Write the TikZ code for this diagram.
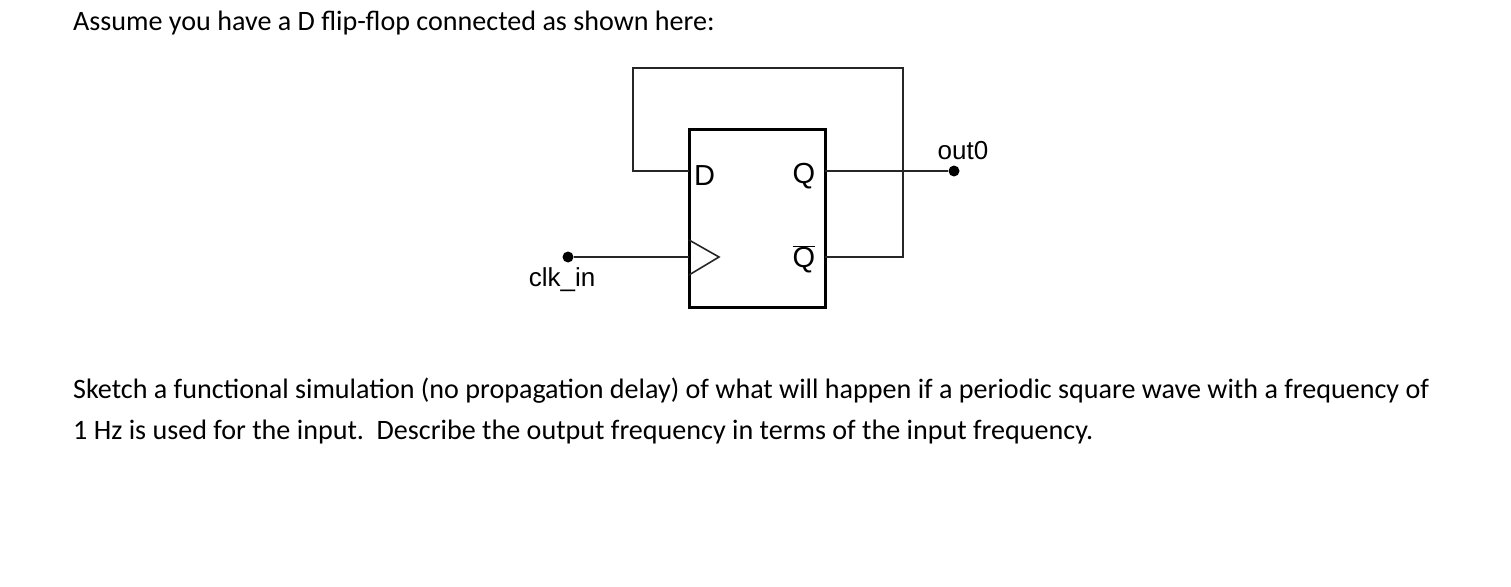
\documentclass[tikz,border=0pt]{standalone}
\usepackage{fontspec}
\setmainfont{Carlito}
\newfontfamily\arialf{Liberation Sans}
\begin{document}
\begin{tikzpicture}[x=1pt,y=-1pt,
  wire/.style={line width=1.6pt,draw=black!85},
  dot/.style={circle,fill=black,inner sep=0pt,minimum size=11pt},
  body/.style={font=\fontsize{28.1}{32}\selectfont,anchor=base west,inner sep=0pt},
  lbl/.style={font=\arialf\fontsize{26}{30}\selectfont,inner sep=0pt},
  pin/.style={font=\arialf\fontsize{29}{32}\selectfont,inner sep=0pt}]
\useasboundingbox (0,0) rectangle (1511,586);
\node[body] (t1) at (73,31) {Assume you have a D flip-flop connected as shown here:};
\node[draw,line width=3pt,minimum width=136pt,minimum height=178pt,inner sep=0pt] (ff) at (757,218) {};
\node[pin,anchor=west] (d) at (694,176) {D};
\node[pin] (q) at (804,176) {Q};
\node[pin] (qb) at (804,259) {$\overline{\mbox{Q}}$};
\coordinate (dpin) at (689,171);
\coordinate (qpin) at (825,171);
\coordinate (qbpin) at (825,257);
\coordinate (cpin) at (689,257);
\draw[wire] (689,240) -- (719,257) -- (689,275);
\node[dot] (out) at (954,171) {};
\node[dot] (clk) at (568,257) {};
\node[lbl] (outl) at (963,151) {out0};
\node[lbl] (clkl) at (562,280) {clk\_in};
\draw[wire] (dpin) -- (633,171) -- (633,68) -- (903,68) -- (903,257) -- (qbpin);
\draw[wire] (qpin) -- (out);
\draw[wire] (clk) -- (cpin);
\node[body] (t2) at (73,398) {Sketch a functional simulation (no propagation delay) of what will happen if a periodic square wave with a frequency of};
\node[body] (t3) at (73,439) {1 Hz is used for the input.\ \ Describe the output frequency in terms of the input frequency.};
\end{tikzpicture}
\end{document}
